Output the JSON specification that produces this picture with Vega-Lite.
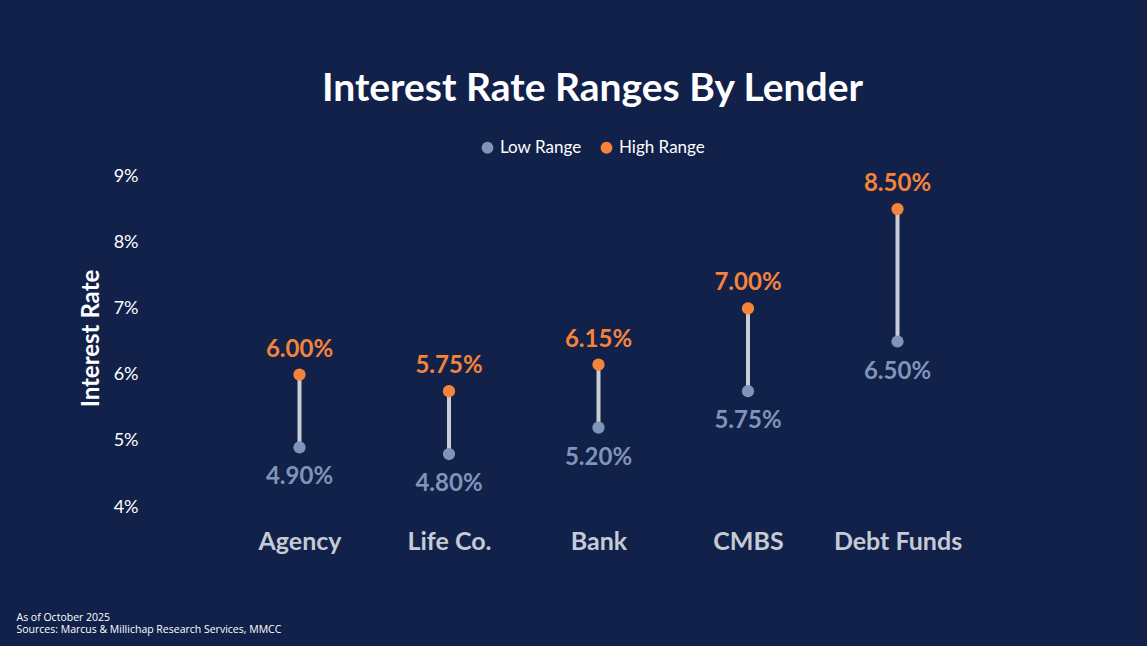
{
  "$schema": "https://vega.github.io/schema/vega-lite/v6.json",
  "width": 897,
  "height": 331,
  "autosize": "none",
  "padding": {"left": 150, "top": 176, "right": 100, "bottom": 139},
  "background": "#11214a",
  "config": {
    "view": {"stroke": null},
    "font": "Lato"
  },
  "title": {
    "text": "Interest Rate Ranges By Lender",
    "font": "Lato",
    "fontSize": 39,
    "fontWeight": "bold",
    "color": "#ffffff",
    "anchor": "middle",
    "dx": -6,
    "offset": 30
  },
  "data": {
    "values": [
      {"lender": "Agency", "Low Range": 0.049, "High Range": 0.06},
      {"lender": "Life Co.", "Low Range": 0.048, "High Range": 0.0575},
      {"lender": "Bank", "Low Range": 0.052, "High Range": 0.0615},
      {"lender": "CMBS", "Low Range": 0.0575, "High Range": 0.07},
      {"lender": "Debt Funds", "Low Range": 0.065, "High Range": 0.085}
    ]
  },
  "encoding": {
    "x": {
      "field": "lender",
      "type": "nominal",
      "sort": null,
      "scale": {"type": "point", "padding": 1.03},
      "axis": {
        "title": ["As of October 2025", "Sources: Marcus & Millichap Research Services, MMCC"],
        "titleFont": "Open Sans",
        "titleFontSize": 10.5,
        "titleFontWeight": "normal",
        "titleColor": "#ffffff",
        "titleAlign": "left",
        "titleAnchor": "start",
        "titleBaseline": "top",
        "titleLineHeight": 12.5,
        "titleX": -134,
        "titleY": 105,
        "labelAngle": 0,
        "labelFont": "Lato",
        "labelFontSize": 25,
        "labelFontWeight": "bold",
        "labelColor": "#c5cad4",
        "labelPadding": 22,
        "domain": false,
        "ticks": false,
        "grid": false
      }
    }
  },
  "layer": [
    {
      "mark": {"type": "rule", "color": "#c9cdd5", "strokeWidth": 4},
      "encoding": {
        "y": {
          "field": "Low Range",
          "type": "quantitative",
          "scale": {"domain": [0.04, 0.09], "nice": false, "zero": false},
          "axis": {
            "title": "Interest Rate",
            "titleFont": "Lato",
            "titleFontSize": 24,
            "titleFontWeight": "bold",
            "titleColor": "#ffffff",
            "titlePadding": 10,
            "titleY": 162,
            "values": [0.04, 0.05, 0.06, 0.07, 0.08, 0.09],
            "format": ".0%",
            "labelFont": "Lato",
            "labelFontSize": 18,
            "labelColor": "#ffffff",
            "labelPadding": 12,
            "domain": false,
            "ticks": false,
            "grid": false
          }
        },
        "y2": {"field": "High Range"}
      }
    },
    {
      "transform": [{"fold": ["Low Range", "High Range"], "as": ["series", "rate"]}],
      "mark": {"type": "circle", "size": 150, "opacity": 1},
      "encoding": {
        "y": {"field": "rate", "type": "quantitative"},
        "color": {
          "field": "series",
          "type": "nominal",
          "scale": {"domain": ["Low Range", "High Range"], "range": ["#7f95b8", "#f5843a"]},
          "legend": {
            "title": null,
            "orient": "none",
            "legendX": 329,
            "legendY": -37,
            "direction": "horizontal",
            "symbolType": "circle",
            "symbolSize": 140,
            "labelFont": "Lato",
            "labelFontSize": 17,
            "labelColor": "#ffffff",
            "columnPadding": 16
          }
        }
      }
    },
    {
      "mark": {"type": "text", "font": "Lato", "fontSize": 24, "fontWeight": "bold", "color": "#f5843a", "dy": -25},
      "encoding": {
        "y": {"field": "High Range", "type": "quantitative"},
        "text": {"field": "High Range", "type": "quantitative", "format": ".2%"}
      }
    },
    {
      "mark": {"type": "text", "font": "Lato", "fontSize": 24, "fontWeight": "bold", "color": "#7f95b8", "dy": 30},
      "encoding": {
        "y": {"field": "Low Range", "type": "quantitative"},
        "text": {"field": "Low Range", "type": "quantitative", "format": ".2%"}
      }
    }
  ]
}
